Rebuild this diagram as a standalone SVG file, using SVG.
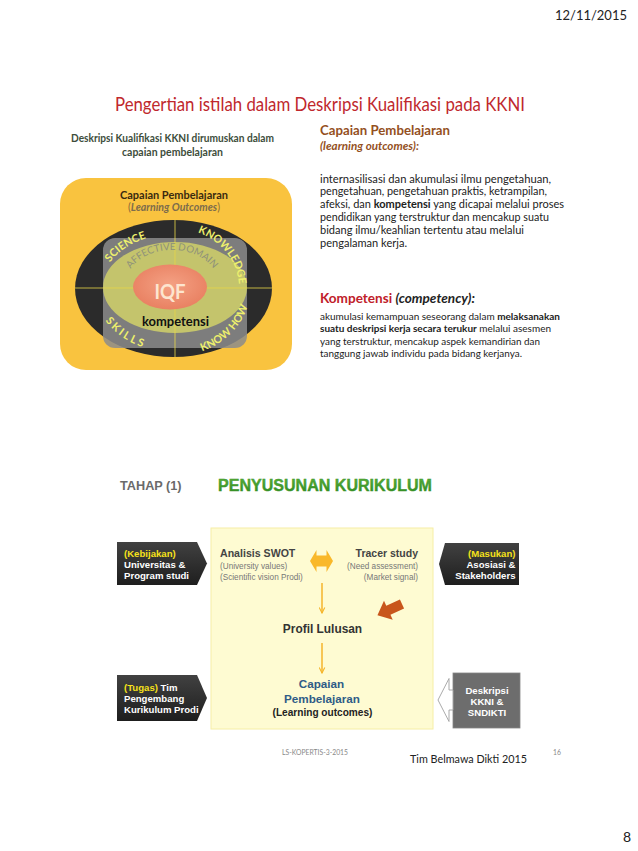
<svg xmlns="http://www.w3.org/2000/svg" width="638" height="851" viewBox="0 0 638 851">
<style>
.cal{font-family:Lato,"Open Sans","Liberation Sans",sans-serif}
.ar{font-family:"Liberation Sans",Arial,sans-serif}
.b{font-weight:bold}
.i{font-style:italic}
.arc{font-family:Lato,"Liberation Sans",sans-serif;font-weight:bold;font-size:10.8px;fill:#eef06c}
.lbl{font-family:"Liberation Sans",Arial,sans-serif;font-weight:bold;font-size:9.6px;fill:#ffffff}
.yel{fill:#f7e21a}
.gsub{font-family:"Liberation Sans",Arial,sans-serif;font-size:8.2px;fill:#777}
</style>
<defs>
<linearGradient id="dk" x1="0" y1="0" x2="0" y2="1">
<stop offset="0" stop-color="#414141"/><stop offset="1" stop-color="#1e1e1e"/>
</linearGradient>
<radialGradient id="sal" cx="0.5" cy="0.45" r="0.6">
<stop offset="0" stop-color="#f4a184"/><stop offset="1" stop-color="#e87e5f"/>
</radialGradient>
<linearGradient id="grn" x1="0" y1="0" x2="0" y2="1">
<stop offset="0" stop-color="#5cb23a"/><stop offset="1" stop-color="#2f8a22"/>
</linearGradient>
<marker id="ah" viewBox="0 0 10 10" refX="9" refY="5" markerWidth="7" markerHeight="7" markerUnits="userSpaceOnUse" orient="auto">
<path d="M1,1 L9,5 L1,9" fill="none" stroke="#f5b52b" stroke-width="1.6"/>
</marker>
<path id="pSci" d="M101.3,283.3 A74,54 0 0 1 168.5,234.2"/>
<path id="pKnow" d="M186.1,229.4 A64,59.5 0 0 1 238.4,296.3"/>
<path id="pSkill" d="M95.7,299.2 A80.5,64.7 0 0 0 168,352.5"/>
<path id="pHow" d="M181.6,355.5 A75.4,67.8 0 0 0 250.4,285.6"/>
<path id="pAff" d="M126.8,277.2 A46,33.5 0 0 1 217.2,277.2"/>
</defs>
<rect width="638" height="851" fill="#ffffff"/>

<text class="cal" x="627" y="20" font-size="13" fill="#222" text-anchor="end">12/11/2015</text>

<text class="cal" x="115" y="111" font-size="19" fill="#c0282d" textLength="410" lengthAdjust="spacingAndGlyphs">Pengertian istilah dalam Deskripsi Kualifikasi pada KKNI</text>

<g id="subtitle" class="cal b" font-size="11.5" fill="#3d4d3b" text-anchor="middle">
<text x="172.5" y="142" textLength="203" lengthAdjust="spacingAndGlyphs">Deskripsi Kualifikasi KKNI dirumuskan dalam</text>
<text x="172.5" y="156" textLength="101" lengthAdjust="spacingAndGlyphs">capaian pembelajaran</text>
</g>

<g id="iqf-diagram">
<rect x="60" y="178" width="232" height="192" rx="26" fill="#f9c33f"/>
<text class="cal b" x="174" y="199" font-size="11" fill="#3a2a10" text-anchor="middle" textLength="108" lengthAdjust="spacingAndGlyphs">Capaian Pembelajaran</text>
<text class="cal" x="174" y="211" font-size="10.5" fill="#8a6a3a" text-anchor="middle" textLength="92" lengthAdjust="spacingAndGlyphs">(<tspan class="i b" fill="#7d6c4c">Learning Outcomes</tspan>)</text>
<ellipse cx="173.5" cy="288.5" rx="98.5" ry="68.5" fill="#2b2b2b"/>
<rect x="103" y="238" width="144" height="110" rx="12" fill="#8c8c8c" fill-opacity="0.85"/>
<ellipse cx="175" cy="287.5" rx="72" ry="45.5" fill="#c4c46c"/>
<g stroke="#e8d64a" stroke-width="0.9" opacity="0.9">
<line x1="75" y1="288" x2="272" y2="288"/>
<line x1="175" y1="220" x2="175" y2="357"/>
</g>
<ellipse cx="170" cy="287" rx="37" ry="22.5" fill="url(#sal)"/>
<text class="cal b" x="170" y="299" font-size="21" fill="#fde5cf" text-anchor="middle" textLength="31" lengthAdjust="spacingAndGlyphs">IQF</text>
<text class="cal b" x="175.5" y="326" font-size="13" fill="#111" text-anchor="middle" textLength="67" lengthAdjust="spacingAndGlyphs">kompetensi</text>
<text class="arc"><textPath href="#pSci" startOffset="50%" text-anchor="middle">SCIENCE</textPath></text>
<text class="arc"><textPath href="#pKnow" startOffset="50%" text-anchor="middle">KNOWLEDGE</textPath></text>
<text class="arc" letter-spacing="2.5"><textPath href="#pSkill" startOffset="50%" text-anchor="middle">SKILLS</textPath></text>
<text class="arc"><textPath href="#pHow" startOffset="50%" text-anchor="middle">KNOW HOW</textPath></text>
<text font-family="Lato,'Liberation Sans',sans-serif" font-size="9.8" fill="#8e917a"><textPath href="#pAff" startOffset="50%" text-anchor="middle">AFFECTIVE DOMAIN</textPath></text>
</g>

<g id="capaian-def" class="cal">
<text x="320" y="135" font-size="13" class="b" fill="#94501e" textLength="130" lengthAdjust="spacingAndGlyphs">Capaian Pembelajaran</text>
<text x="320" y="150" font-size="11" class="b i" fill="#94501e" textLength="99" lengthAdjust="spacingAndGlyphs">(learning outcomes):</text>
<g font-size="11" fill="#222">
<text x="320" y="182.5" textLength="231" lengthAdjust="spacingAndGlyphs">internasilisasi dan akumulasi ilmu pengetahuan,</text>
<text x="320" y="195.3" textLength="227" lengthAdjust="spacingAndGlyphs">pengetahuan, pengetahuan praktis, ketrampilan,</text>
<text x="320" y="208.1" textLength="244" lengthAdjust="spacingAndGlyphs">afeksi, dan <tspan class="b">kompetensi</tspan> yang dicapai melalui proses</text>
<text x="320" y="220.9" textLength="229" lengthAdjust="spacingAndGlyphs">pendidikan yang terstruktur dan mencakup suatu</text>
<text x="320" y="233.7" textLength="204" lengthAdjust="spacingAndGlyphs">bidang ilmu/keahlian tertentu atau melalui</text>
<text x="320" y="246.5" textLength="87" lengthAdjust="spacingAndGlyphs">pengalaman kerja.</text>
</g>
</g>

<g id="kompetensi-def" class="cal">
<text x="320" y="303" font-size="14" class="b" fill="#c0202a" textLength="155" lengthAdjust="spacingAndGlyphs">Kompetensi <tspan class="i" fill="#222">(competency):</tspan></text>
<g font-size="10" fill="#222">
<text x="320" y="320" textLength="240" lengthAdjust="spacingAndGlyphs">akumulasi kemampuan seseorang dalam <tspan class="b">melaksanakan</tspan></text>
<text x="320" y="332.3" textLength="231" lengthAdjust="spacingAndGlyphs"><tspan class="b">suatu deskripsi kerja secara terukur</tspan> melalui asesmen</text>
<text x="320" y="344.6" textLength="220" lengthAdjust="spacingAndGlyphs">yang terstruktur, mencakup aspek kemandirian dan</text>
<text x="320" y="357" textLength="202" lengthAdjust="spacingAndGlyphs">tanggung jawab individu pada bidang kerjanya.</text>
</g>
</g>

<text class="ar b" x="120" y="490" font-size="12.7" fill="#6a6a6a">TAHAP (1)</text>
<text class="ar b" x="218" y="490.5" font-size="15.8" fill="url(#grn)" stroke="#3a9228" stroke-width="0.4" textLength="214" lengthAdjust="spacingAndGlyphs">PENYUSUNAN KURIKULUM</text>

<g id="main-box">
<rect x="211" y="528" width="222" height="201" fill="#fefbd2" stroke="#f6eea6" stroke-width="1"/>
</g>

<g id="swot">
<text class="ar b" x="220" y="557" font-size="10.6" fill="#444">Analisis SWOT</text>
<text class="gsub" x="220" y="568.5">(University values)</text>
<text class="gsub" x="220" y="579.5">(Scientific vision Prodi)</text>
</g>

<g id="tracer" text-anchor="end">
<text class="ar b" x="418" y="557" font-size="10.5" fill="#444">Tracer study</text>
<text class="gsub" x="418" y="569">(Need assessment)</text>
<text class="gsub" x="418" y="580">(Market signal)</text>
</g>

<g id="profil">
<text class="ar b" x="322.5" y="633" font-size="11.9" fill="#333" text-anchor="middle">Profil Lulusan</text>
</g>

<g id="capaian" text-anchor="middle">
<text class="ar b" x="321.5" y="688" font-size="11.7" fill="#2f5c87">Capaian</text>
<text class="ar b" x="322" y="703" font-size="11.7" fill="#2f5c87">Pembelajaran</text>
<text class="ar b" x="322.5" y="715.5" font-size="10.1" fill="#222">(Learning outcomes)</text>
</g>

<g id="kebijakan">
<polygon points="117,542 197,542 207,563.5 197,585 117,585" fill="url(#dk)"/>
<text class="lbl" x="124" y="556.6"><tspan class="yel">(Kebijakan)</tspan></text>
<text class="lbl" x="124" y="567.8">Universitas &amp;</text>
<text class="lbl" x="124" y="579.4">Program studi</text>
</g>

<g id="tugas">
<polygon points="117,675 197,675 207,698 197,721 117,721" fill="url(#dk)"/>
<text class="lbl" x="124" y="691.2"><tspan class="yel">(Tugas)</tspan> Tim</text>
<text class="lbl" x="124" y="701.8">Pengembang</text>
<text class="lbl" x="124" y="712.8">Kurikulum Prodi</text>
</g>

<g id="masukan" text-anchor="end">
<polygon points="519,543 445,543 439,564 445,585 519,585" fill="url(#dk)"/>
<text class="lbl" x="515.5" y="556.6"><tspan class="yel">(Masukan)</tspan></text>
<text class="lbl" x="515.5" y="567.8">Asosiasi &amp;</text>
<text class="lbl" x="515.5" y="579.4">Stakeholders</text>
</g>

<g id="kkni" text-anchor="middle">
<rect x="453" y="673" width="67" height="55" fill="#6d6d6d" stroke="#858585" stroke-width="0.8"/>
<text class="lbl" x="487" y="693.5" fill="#f2f2f2">Deskripsi</text>
<text class="lbl" x="487" y="704.5" fill="#f2f2f2">KKNI &amp;</text>
<text class="lbl" x="487" y="715.5" fill="#f2f2f2">SNDIKTI</text>
</g>

<g id="connectors">
<polygon points="310,561 316.5,550 316.5,555.5 326.5,555.5 326.5,550 333,561 326.5,572 326.5,566.5 316.5,566.5 316.5,572" fill="#f9b82a"/>
<line x1="322" y1="583" x2="322" y2="613" stroke="#f5b52b" stroke-width="1.5" marker-end="url(#ah)"/>
<line x1="322" y1="643" x2="322" y2="673" stroke="#f5b52b" stroke-width="1.5" marker-end="url(#ah)"/>
<polygon transform="translate(402,604) rotate(155.4)" points="0,-5 15,-5 15,-10.5 27,0 15,10.5 15,5 0,5" fill="#c8561c"/>
<polygon points="438,700 449,678.5 449,690 453,690 453,710 449,710 449,721.5" fill="#ffffff" stroke="#a0a0a0" stroke-width="0.9"/>
</g>

<g id="footer">
<text class="cal" x="282" y="755" font-size="6.8" fill="#888" textLength="66" lengthAdjust="spacingAndGlyphs">LS-KOPERTIS-3-2015</text>
<text class="cal" x="553" y="755" font-size="6.8" fill="#888">16</text>
<text class="cal" x="410" y="763" font-size="12" fill="#222" textLength="117" lengthAdjust="spacingAndGlyphs">Tim Belmawa Dikti  2015</text>
<text class="cal" x="623" y="842" font-size="14" fill="#222">8</text>
</g>
</svg>
